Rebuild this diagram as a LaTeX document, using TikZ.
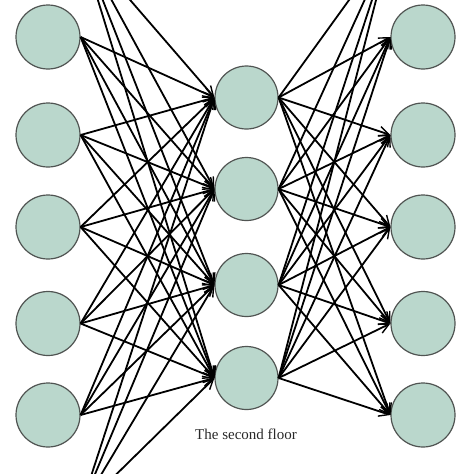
\documentclass[tikz,border=0pt]{standalone}
\usepackage{fontspec}
\setmainfont{Liberation Serif}
\usetikzlibrary{arrows.meta}
\definecolor{cfill}{RGB}{186,215,204}
\definecolor{cedge}{RGB}{80,84,82}
\definecolor{ctext}{RGB}{40,40,40}
\tikzset{
  neuron/.style={circle,draw=cedge,line width=1.2pt,fill=cfill,minimum size=64pt,inner sep=0pt},
  link/.style={line width=1.8pt,black,-{Straight Barb[length=10pt,width=10pt,line width=1.4pt]}},
  caption/.style={font=\fontsize{15}{18}\selectfont,text=ctext}
}
\begin{document}
\begin{tikzpicture}[x=1pt,y=-1pt]
\useasboundingbox (0,0) rectangle (474,474);
\clip (0,0) rectangle (474,474);
% left column
\node[neuron] (L1) at (48,37) {};
\node[neuron] (L2) at (48,135) {};
\node[neuron] (L3) at (48,227) {};
\node[neuron] (L4) at (48,323.5) {};
\node[neuron] (L5) at (48,415) {};
\coordinate (L0) at (80,-58);
\coordinate (L6) at (80,510);
% middle column
\node[neuron,minimum size=63pt] (M1) at (246.5,97.5) {};
\node[neuron,minimum size=63pt] (M2) at (246.5,189) {};
\node[neuron,minimum size=63pt] (M3) at (246.5,285) {};
\node[neuron,minimum size=63pt] (M4) at (246.5,378) {};
% right column
\node[neuron] (R1) at (423,37) {};
\node[neuron] (R2) at (423,135) {};
\node[neuron] (R3) at (423,227) {};
\node[neuron] (R4) at (423,323.5) {};
\node[neuron] (R5) at (423,415) {};
\coordinate (R0) at (391,-58);
% links left -> middle
\foreach \m in {1,2,3,4}{
  \draw[link] (L0) -- (M\m.west);
  \draw[link] (L6) -- (M\m.west);
  \foreach \l in {1,...,5}{
    \draw[link] (L\l.east) -- (M\m.west);
  }
}
% links middle -> right
\foreach \m in {1,2,3,4}{
  \draw[link] (M\m.east) -- (R0);
  \foreach \r in {1,...,5}{
    \draw[link] (M\m.east) -- (R\r.west);
  }
}
\node[caption] (cap) at (246,434) {The second floor};
\end{tikzpicture}
\end{document}
